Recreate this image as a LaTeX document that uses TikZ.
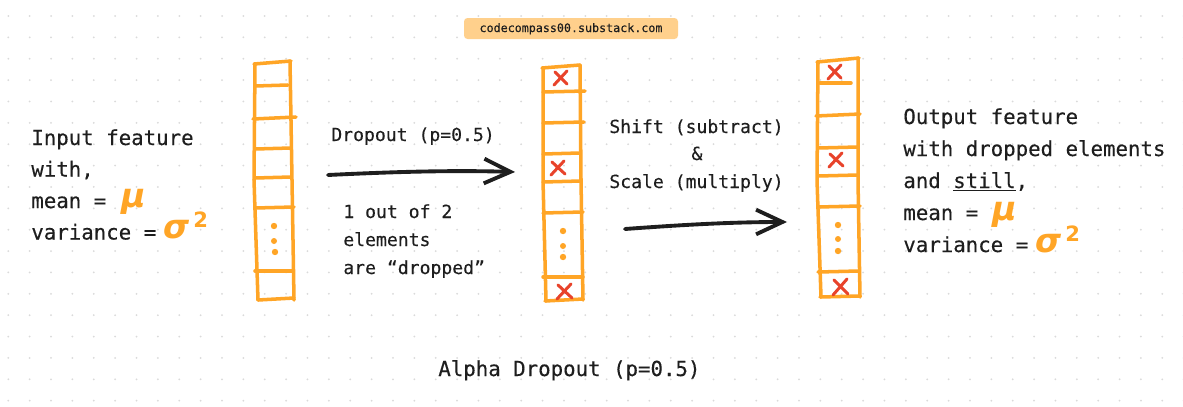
\documentclass[tikz,border=0pt]{standalone}
\usepackage{fontspec}
\setmonofont{DejaVu Sans Mono}[FakeBold=0.25]
\newfontfamily\handfont{DejaVu Sans}
\usetikzlibrary{arrows.meta}
\definecolor{org}{HTML}{FFA526}
\definecolor{xred}{HTML}{E8432B}
\definecolor{ink}{HTML}{1E1E1E}
\definecolor{gridgray}{HTML}{DADADA}
\definecolor{tagfill}{HTML}{FFD08C}
\definecolor{txt}{HTML}{1E1E1E}
\tikzset{
  bigtxt/.style={font=\ttfamily\fontsize{11.8}{14}\selectfont, text=txt, anchor=base west, inner sep=0pt},
  medtxt/.style={font=\ttfamily\fontsize{10.3}{12}\selectfont, text=txt, anchor=base west, inner sep=0pt},
  smalltxt/.style={font=\ttfamily\fontsize{6.65}{8}\selectfont, text=txt, inner sep=0pt},
  greek/.style={font=\handfont\bfseries\itshape\fontsize{19}{22}\selectfont, text=org, anchor=base west, inner sep=0pt},
  supdigit/.style={font=\handfont\bfseries\fontsize{12}{14}\selectfont, text=org, anchor=base west, inner sep=0pt},
  colline/.style={draw=org, line width=2pt, line cap=round, line join=round},
  xmark/.style={draw=xred, line width=1.7pt, line cap=round},
  dotmark/.style={fill=org},
  arr/.style={draw=ink, line width=2.2pt, line cap=round, -{Straight Barb[length=15pt,width=14pt,line width=2.2pt]}},
  tag/.style={fill=tagfill, rounded corners=2pt}
}
\begin{document}
\begin{tikzpicture}[x=0.02cm,y=-0.02cm]
\useasboundingbox (0,0) rectangle (1183,406);
\fill[white] (0,0) rectangle (1183,406);
% dot grid
\foreach \i in {0,...,55}{
  \foreach \j in {0,...,18}{
    \fill[gridgray] ({8.3+21.37*\i},{16+21.37*\j}) circle (1);
  }
}
% watermark
\fill[tag] (464,18) rectangle (678,39);
\node[smalltxt, anchor=base] (wm) at (571,32) {codecompass00.substack.com};

% left text
\node[bigtxt] (in1) at (31,145) {Input feature};
\node[bigtxt] (in2) at (31,176.5) {with,};
\node[bigtxt] (in3) at (31,208) {mean =};
\node[bigtxt] (in4) at (31,239.5) {variance =};
\node[greek] (mu1) at (121,207) {μ};
\node[greek] (sig1) at (163,238) {σ};
\node[supdigit] (two1) at (193,227) {2};

% column 1
\draw[colline] (255,64) -- (254,180) -- (258,300);
\draw[colline] (254,64) -- (291,61);
\draw[colline] (290,61) -- (292,180) -- (294,300);
\draw[colline] (258,300) -- (294,298);
\draw[colline] (255,86) -- (288,85);
\draw[colline] (253,119) -- (296,117);
\draw[colline] (255,149) -- (291,148);
\draw[colline] (255,178) -- (291,177);
\draw[colline] (255,208) -- (294,207);
\draw[colline] (255,271) -- (293,271);
\fill[dotmark] (274,226) circle (3.2) (274,241) circle (3) (275,252) circle (3.2);

% column 2
\draw[colline] (543,68) -- (543,180) -- (546,301);
\draw[colline] (542,68) -- (580,65);
\draw[colline] (580,65) -- (581,180) -- (583,300);
\draw[colline] (545,301) -- (583,299);
\draw[colline] (543,92) -- (585,91);
\draw[colline] (543,123) -- (584,122);
\draw[colline] (543,154) -- (580,153);
\draw[colline] (543,182) -- (581,181);
\draw[colline] (543,213) -- (583,212);
\draw[colline] (543,277) -- (583,277);
\fill[dotmark] (563,231) circle (3.2) (563,246) circle (3) (563,257) circle (3.2);
\draw[xmark] (555,72) -- (567,84) (567,71) -- (554,85);
\draw[xmark] (552,162) -- (565,174) (564,161) -- (551,175);
\draw[xmark] (558,285) -- (572,298) (571,284) -- (557,299);

% column 3
\draw[colline] (818,62) -- (817,180) -- (821,297);
\draw[colline] (817,62) -- (859,58);
\draw[colline] (858,58) -- (858,180) -- (860,297);
\draw[colline] (820,297) -- (860,296);
\draw[colline] (820,83) -- (851,83);
\draw[colline] (816,116) -- (860,114);
\draw[colline] (818,148) -- (858,147);
\draw[colline] (818,176) -- (858,175);
\draw[colline] (818,207) -- (860,206);
\draw[colline] (818,272) -- (859,271);
\fill[dotmark] (838,225) circle (3.2) (838,239) circle (3) (838,251) circle (3.2);
\draw[xmark] (829,66) -- (841,78) (841,65) -- (828,79);
\draw[xmark] (830,154) -- (843,166) (842,153) -- (829,167);
\draw[xmark] (834,280) -- (848,294) (847,279) -- (833,295);

% arrow 1 and labels
\coordinate (a1s) at (328,175);
\coordinate (a1e) at (515,172);
\draw[arr] (a1s) .. controls (390,172) and (450,170) .. (a1e);
\node[medtxt] (dp) at (331,141) {Dropout (p=0.5)};
\node[medtxt] (d1) at (343,218) {1 out of 2};
\node[medtxt] (d2) at (343,246) {elements};
\node[medtxt] (d3) at (343,274) {are “dropped”};

% arrow 2 and labels
\coordinate (a2s) at (625,229);
\coordinate (a2e) at (787,222);
\draw[arr] (a2s) .. controls (680,225) and (730,222) .. (a2e);
\node[medtxt] (s1) at (609,133) {Shift (subtract)};
\node[medtxt, anchor=base] (s2) at (697,160) {\&};
\node[medtxt] (s3) at (609,188) {Scale (multiply)};

% right text
\node[bigtxt] (o1) at (903,124) {Output feature};
\node[bigtxt] (o2) at (903,156) {with dropped elements};
\node[bigtxt] (o3) at (903,188) {and \underline{still},};
\node[bigtxt] (o4) at (903,220) {mean =};
\node[bigtxt] (o5) at (903,252) {variance =};
\node[greek] (mu2) at (992,220) {μ};
\node[greek] (sig2) at (1035,252) {σ};
\node[supdigit] (two2) at (1065,241) {2};

% caption
\node[bigtxt] (cap) at (438,376) {Alpha Dropout (p=0.5)};
\end{tikzpicture}
\end{document}
